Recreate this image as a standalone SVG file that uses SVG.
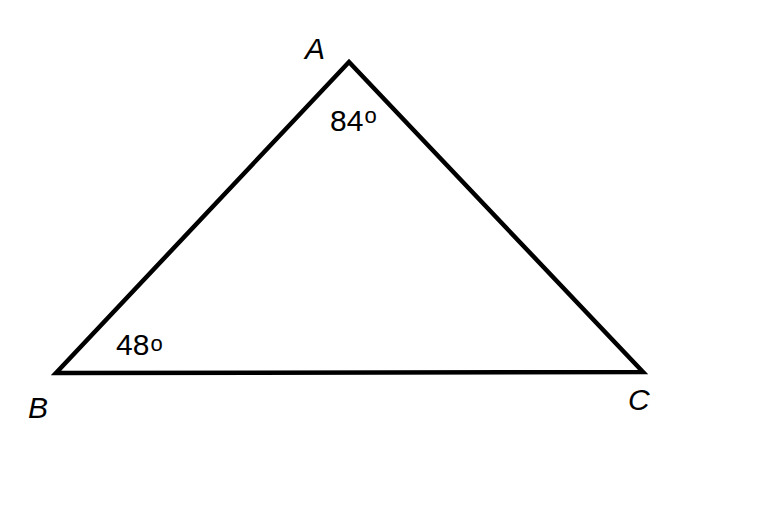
<svg xmlns="http://www.w3.org/2000/svg" width="765" height="521" viewBox="0 0 765 521">
<style>
.lbl{font-family:"Liberation Sans",Arial,sans-serif;font-size:30px;fill:#000}
.it{font-style:italic}
.sup{font-size:22px}
.edge{fill:none;stroke:#000;stroke-width:4.5;stroke-linejoin:miter}
</style>
<rect width="765" height="521" fill="#fff"/>
<g id="connectors">
<polygon class="edge" points="349,62 56,373 643,372"/>
</g>
<g id="A"><text class="lbl it" x="305" y="59">A</text></g>
<g id="B"><text class="lbl it" x="28" y="418">B</text></g>
<g id="C"><text class="lbl it" x="628" y="410">C</text></g>
<g id="angleA"><text class="lbl" x="330" y="130.5">84<tspan class="sup" dx="1" dy="-7.5">o</tspan></text></g>
<g id="angleB"><text class="lbl" x="116" y="355">48<tspan class="sup" dx="1" dy="-4.5">o</tspan></text></g>
</svg>
